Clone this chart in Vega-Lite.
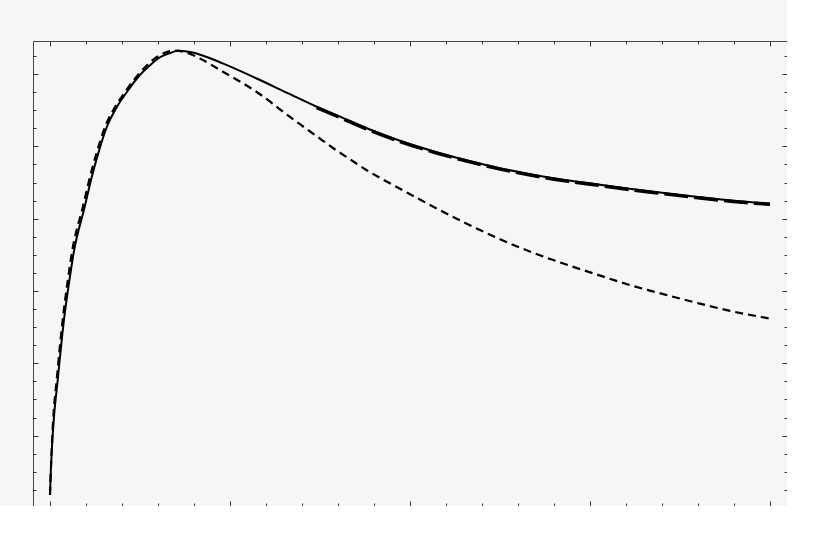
{
  "$schema": "https://vega.github.io/schema/vega-lite/v6.json",
  "width": 754,
  "height": 465,
  "autosize": "none",
  "padding": {"left": 33, "top": 41, "right": 0, "bottom": 0},
  "background": "#f6f6f6",
  "config": {
    "view": {"stroke": "#444", "strokeWidth": 1, "fill": "#f6f6f6"},
    "axis": {
      "domain": false,
      "grid": false,
      "labels": false,
      "title": null,
      "ticks": true,
      "tickColor": "#333",
      "tickWidth": 1
    }
  },
  "datasets": {
    "solid": [
      {"x": 0, "y": 0.179},
      {"x": 0.0028, "y": 0.386},
      {"x": 0.0111, "y": 0.842},
      {"x": 0.0239, "y": 1.312},
      {"x": 0.0417, "y": 1.741},
      {"x": 0.0594, "y": 2.183},
      {"x": 0.0794, "y": 2.639},
      {"x": 0.1056, "y": 3.109},
      {"x": 0.1322, "y": 3.538},
      {"x": 0.1922, "y": 4.16},
      {"x": 0.2317, "y": 4.574},
      {"x": 0.2683, "y": 4.906},
      {"x": 0.315, "y": 5.265},
      {"x": 0.3706, "y": 5.542},
      {"x": 0.4261, "y": 5.749},
      {"x": 0.4817, "y": 5.936},
      {"x": 0.5556, "y": 6.122},
      {"x": 0.6111, "y": 6.233},
      {"x": 0.6667, "y": 6.292},
      {"x": 0.7111, "y": 6.323},
      {"x": 0.7778, "y": 6.306},
      {"x": 0.9628, "y": 6.146},
      {"x": 1.1483, "y": 5.939},
      {"x": 1.3333, "y": 5.722},
      {"x": 1.4817, "y": 5.549},
      {"x": 1.6111, "y": 5.411},
      {"x": 1.7594, "y": 5.252},
      {"x": 1.9444, "y": 5.079},
      {"x": 2.1294, "y": 4.934},
      {"x": 2.315, "y": 4.809},
      {"x": 2.5, "y": 4.699},
      {"x": 2.7222, "y": 4.592},
      {"x": 2.8706, "y": 4.533},
      {"x": 3.0556, "y": 4.471},
      {"x": 3.2406, "y": 4.408},
      {"x": 3.4261, "y": 4.353},
      {"x": 3.6111, "y": 4.298},
      {"x": 3.7961, "y": 4.25},
      {"x": 4, "y": 4.211}
    ],
    "longdash": [
      {"x": 1.4817, "y": 5.537},
      {"x": 1.6111, "y": 5.399},
      {"x": 1.7594, "y": 5.24},
      {"x": 1.9444, "y": 5.067},
      {"x": 2.1294, "y": 4.922},
      {"x": 2.315, "y": 4.797},
      {"x": 2.5, "y": 4.687},
      {"x": 2.7222, "y": 4.58},
      {"x": 2.8706, "y": 4.521},
      {"x": 3.0556, "y": 4.459},
      {"x": 3.2406, "y": 4.396},
      {"x": 3.4261, "y": 4.341},
      {"x": 3.6111, "y": 4.286},
      {"x": 3.7961, "y": 4.238},
      {"x": 4, "y": 4.199}
    ],
    "shortdash": [
      {"x": 0, "y": 0.179},
      {"x": 0.0028, "y": 0.386},
      {"x": 0.01, "y": 0.842},
      {"x": 0.02, "y": 1.312},
      {"x": 0.0361, "y": 1.741},
      {"x": 0.0528, "y": 2.183},
      {"x": 0.0722, "y": 2.639},
      {"x": 0.0967, "y": 3.109},
      {"x": 0.1222, "y": 3.538},
      {"x": 0.1822, "y": 4.16},
      {"x": 0.2217, "y": 4.574},
      {"x": 0.2583, "y": 4.906},
      {"x": 0.305, "y": 5.265},
      {"x": 0.3606, "y": 5.542},
      {"x": 0.4161, "y": 5.749},
      {"x": 0.4717, "y": 5.936},
      {"x": 0.5444, "y": 6.136},
      {"x": 0.6, "y": 6.247},
      {"x": 0.6444, "y": 6.302},
      {"x": 0.6944, "y": 6.325},
      {"x": 0.75, "y": 6.305},
      {"x": 0.8333, "y": 6.215},
      {"x": 0.9628, "y": 6.03},
      {"x": 1.1483, "y": 5.753},
      {"x": 1.3333, "y": 5.408},
      {"x": 1.3889, "y": 5.307},
      {"x": 1.4817, "y": 5.141},
      {"x": 1.5739, "y": 4.975},
      {"x": 1.6667, "y": 4.823},
      {"x": 1.7594, "y": 4.671},
      {"x": 1.8517, "y": 4.54},
      {"x": 1.9444, "y": 4.415},
      {"x": 2.1294, "y": 4.167},
      {"x": 2.315, "y": 3.932},
      {"x": 2.5, "y": 3.717},
      {"x": 2.685, "y": 3.528},
      {"x": 2.8517, "y": 3.381},
      {"x": 3.0372, "y": 3.229},
      {"x": 3.2222, "y": 3.082},
      {"x": 3.4072, "y": 2.957},
      {"x": 3.5928, "y": 2.837},
      {"x": 3.7778, "y": 2.726},
      {"x": 4, "y": 2.619}
    ]
  },
  "layer": [
    {
      "data": {"name": "solid"},
      "mark": {"type": "line", "color": "#000", "strokeWidth": 2, "interpolate": "monotone", "clip": true},
      "encoding": {
        "x": {"field": "x", "type": "quantitative", "scale": {"domain": [-0.0944, 4.0944], "nice": false, "zero": false},
              "axis": {"orient": "bottom", "tickSize": -5, "values": [0, 1, 2, 3, 4]}},
        "y": {"field": "y", "type": "quantitative", "scale": {"domain": [0.027, 6.458], "nice": false, "zero": false},
              "axis": {"orient": "left", "tickSize": -5, "values": [1, 2, 3, 4, 5, 6]}}
      }
    },
    {
      "data": {"name": "longdash"},
      "mark": {"type": "line", "color": "#000", "strokeWidth": 3.4, "strokeDash": [24, 6], "interpolate": "monotone", "clip": true},
      "encoding": {
        "x": {"field": "x", "type": "quantitative",
              "axis": {"orient": "top", "tickSize": -5, "values": [0, 1, 2, 3, 4]}},
        "y": {"field": "y", "type": "quantitative",
              "axis": {"orient": "right", "tickSize": -5, "values": [1, 2, 3, 4, 5, 6]}}
      }
    },
    {
      "data": {"name": "shortdash"},
      "mark": {"type": "line", "color": "#000", "strokeWidth": 2.2, "strokeDash": [8, 5], "interpolate": "monotone", "clip": true},
      "encoding": {
        "x": {"field": "x", "type": "quantitative",
              "axis": {"orient": "bottom", "tickSize": -3, "values": [0.2, 0.4, 0.6, 0.8, 1.2, 1.4, 1.6, 1.8, 2.2, 2.4, 2.6, 2.8, 3.2, 3.4, 3.6, 3.8]}},
        "y": {"field": "y", "type": "quantitative",
              "axis": {"orient": "left", "tickSize": -3, "values": [0.25, 0.5, 0.75, 1.25, 1.5, 1.75, 2.25, 2.5, 2.75, 3.25, 3.5, 3.75, 4.25, 4.5, 4.75, 5.25, 5.5, 5.75, 6.25]}}
      }
    },
    {
      "data": {"name": "solid"},
      "mark": {"type": "line", "color": "#000", "strokeWidth": 2, "opacity": 0, "clip": true},
      "encoding": {
        "x": {"field": "x", "type": "quantitative",
              "axis": {"orient": "top", "tickSize": -3, "values": [0.2, 0.4, 0.6, 0.8, 1.2, 1.4, 1.6, 1.8, 2.2, 2.4, 2.6, 2.8, 3.2, 3.4, 3.6, 3.8]}},
        "y": {"field": "y", "type": "quantitative",
              "axis": {"orient": "right", "tickSize": -3, "values": [0.25, 0.5, 0.75, 1.25, 1.5, 1.75, 2.25, 2.5, 2.75, 3.25, 3.5, 3.75, 4.25, 4.5, 4.75, 5.25, 5.5, 5.75, 6.25]}}
      }
    }
  ],
  "resolve": {"axis": {"x": "independent", "y": "independent"}}
}
